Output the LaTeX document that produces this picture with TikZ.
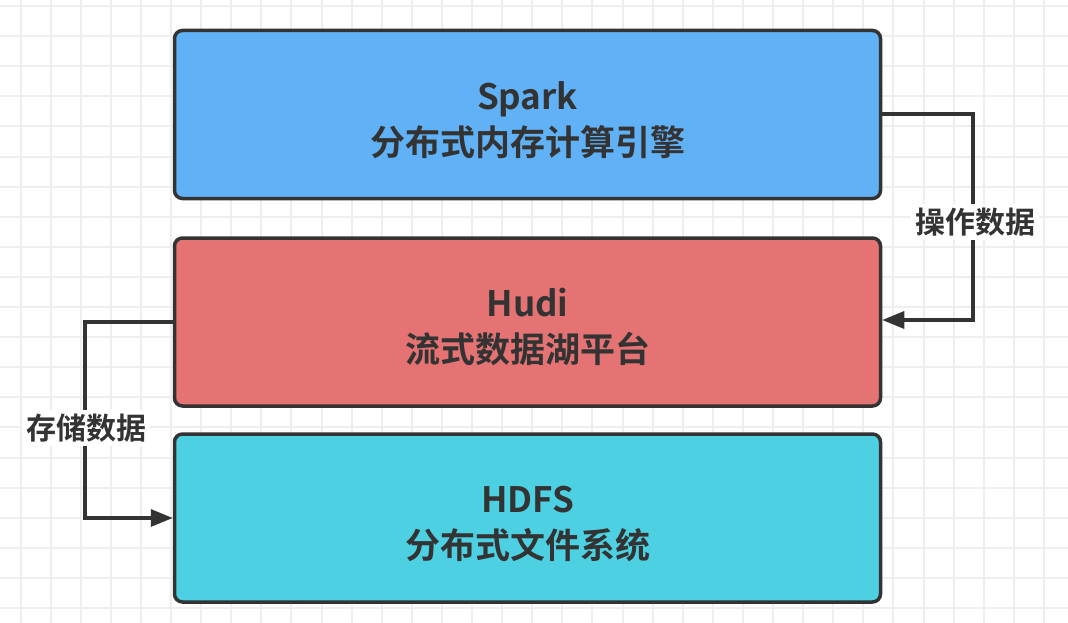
\documentclass[tikz,border=0pt]{standalone}
\usepackage{fontspec}
\setmainfont{Noto Sans CJK SC}[BoldFont={Noto Sans CJK SC Bold}]
\usetikzlibrary{arrows.meta}
\definecolor{sparkblue}{HTML}{60B1F5}
\definecolor{hudired}{HTML}{E57373}
\definecolor{hdfscyan}{HTML}{4DD0E1}
\definecolor{ink}{HTML}{333333}
\definecolor{gridc}{HTML}{EEEEEE}
\newcommand{\lowstrut}{\rule{0pt}{39pt}}
\tikzset{
  layer/.style={draw=ink, line width=3.5pt, rounded corners=8pt, minimum width=706pt, minimum height=168pt, text=ink, font=\fontsize{35}{46}\selectfont\bfseries, align=center, inner sep=0pt},
  flow/.style={draw=ink, line width=3.2pt, -{Triangle[length=22pt,width=17pt]}},
  lbl/.style={fill=white, text=ink, font=\fontsize{30}{34}\selectfont\bfseries, inner sep=4pt}
}
\begin{document}
\begin{tikzpicture}[x=1pt,y=-1pt]
\useasboundingbox (0,0) rectangle (1068,623);
\fill[white] (0,0) rectangle (1068,623);
\foreach \i in {0,...,35} { \draw[gridc, line width=2pt] ({20.5+30.1*\i},0) -- ({20.5+30.1*\i},623); }
\foreach \i in {0,...,20} { \draw[gridc, line width=2pt] (0,{6+30.1*\i}) -- (1068,{6+30.1*\i}); }
\node[layer, fill=sparkblue] (spark) at (527.5,114.5) {\lowstrut Spark\\分布式内存计算引擎};
\node[layer, fill=hudired] (hudi) at (527.5,322) {\lowstrut Hudi\\流式数据湖平台};
\node[layer, fill=hdfscyan] (hdfs) at (527.5,518) {\lowstrut HDFS\\分布式文件系统};
\coordinate (r1) at (973,114);
\coordinate (r2) at (973,320);
\coordinate (l1) at (85,322);
\coordinate (l2) at (85,518);
\draw[flow] (spark.east |- r1) -- (r1) -- (r2) -- (hudi.east |- r2);
\draw[flow] (hudi.west |- l1) -- (l1) -- (l2) -- (hdfs.west |- l2);
\node[lbl] (op) at (975,222) {操作数据};
\node[lbl] (st) at (86,428) {存储数据};
\end{tikzpicture}
\end{document}
